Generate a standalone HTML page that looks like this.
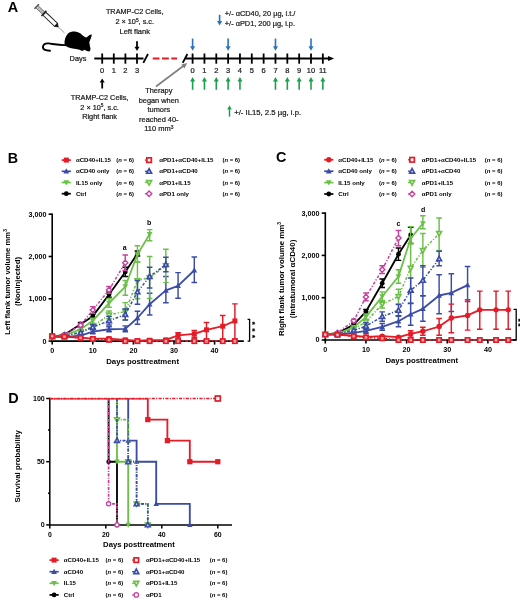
<!DOCTYPE html>
<html lang="en"><head><meta charset="utf-8"><title>Figure</title>
<style>html,body{margin:0;padding:0;background:#fff}svg{display:block}text{font-family:"Liberation Sans",sans-serif}</style>
</head><body>
<svg width="520" height="600" viewBox="0 0 520 600">
<defs><filter id="soft" x="0" y="0" width="520" height="600" filterUnits="userSpaceOnUse"><feGaussianBlur stdDeviation="0.38"/></filter><clipPath id="dclip"><rect x="40" y="398.3" width="200" height="140"/></clipPath></defs>
<rect width="520" height="600" fill="#fff"/>
<g filter="url(#soft)">
<text x="7.7" y="12.4" font-size="14.4" font-weight="bold" fill="#000">A</text>
<text x="7.8" y="162.9" font-size="14.3" font-weight="bold" fill="#000">B</text>
<text x="276.1" y="162.2" font-size="14.4" font-weight="bold" fill="#000">C</text>
<text x="8.2" y="402.5" font-size="14.4" font-weight="bold" fill="#000">D</text>
<g id="panelA">
<g transform="translate(36.7 6.5) rotate(43.5)">
<path d="M0 -3.2V3.2" stroke="#444" stroke-width="1.3"/>
<rect x="0.4" y="-1.6" width="9.6" height="3.2" fill="#c8c8c8" stroke="#555" stroke-width="0.7"/>
<path d="M2.5 -1.6V1.6M4.5 -1.6V1.6M6.5 -1.6V1.6M8.3 -1.6V1.6" stroke="#777" stroke-width="0.4"/>
<path d="M10 -3.6V3.6" stroke="#222" stroke-width="1.5"/>
<rect x="10.6" y="-2.1" width="16.1" height="4.2" fill="#fff" stroke="#222" stroke-width="0.95"/>
<path d="M26.7 -2.1L29.7 0L26.7 2.1Z" fill="#111" stroke="#111" stroke-width="0.6"/>
<path d="M29.5 0H38.3" stroke="#666" stroke-width="0.65"/>
</g>
<path d="M64.5 43.8C64.3 40 65.5 36 68 33.5C70 31.9 72.6 31.4 75 31.6C78 31.8 80.5 33.5 82.4 35.2C83.8 36.3 85.2 37.2 86.5 37.5C88 36.2 89.8 34.9 91.7 34.3C91.8 36 91.2 37.8 90.5 39.3C90.1 40.3 89.6 41.2 89.3 42.2C89.5 43.5 89.8 44.8 89.9 46.2C90.2 47.2 90.6 48.2 90.5 49.1C90.4 50.2 90 51.2 89.3 51.6C88.3 51.6 87.4 51.3 86.5 50.8C85.8 50.4 85 49.9 84.2 49.7C83.6 50.2 83.1 50.8 82.4 50.8C81.3 50.8 80.4 50.1 79.5 49.7C77.2 49.3 74.9 48.9 72.6 48.5C71 48.2 69.4 47.8 68 47.3C66.8 46.9 66 46.3 65.5 45.6C65 45 64.6 44.4 64.5 43.8Z" fill="#000"/>
<path d="M67 45C61 45.6 54.5 44.2 48.5 43.4C45 43 42.8 45 42.9 47.4C43 49.6 46 50.5 50 50.7" fill="none" stroke="#000" stroke-width="1.9" stroke-linecap="round"/>
<text x="78" y="61.4" font-size="7.4" text-anchor="middle" fill="#1c1a1b" stroke="#1c1a1b" stroke-width="0.22">Days</text>
<g stroke="#000" stroke-width="1.8" fill="none">
<path d="M94.3 58.5H143.5"/>
<path d="M102.2 53.5V63.7"/>
<path d="M113.8 53.5V63.7"/>
<path d="M125.4 53.5V63.7"/>
<path d="M137 53.5V63.7"/>
<path d="M143.3 62.8L148 54"/>
<path d="M182.7 62.8L187.4 54"/>
<path d="M185.2 58.5H331"/>
<path d="M192.6 53.5V63.7"/>
<path d="M204.44 53.5V63.7"/>
<path d="M216.28 53.5V63.7"/>
<path d="M228.12 53.5V63.7"/>
<path d="M239.96 53.5V63.7"/>
<path d="M251.8 53.5V63.7"/>
<path d="M263.64 53.5V63.7"/>
<path d="M275.48 53.5V63.7"/>
<path d="M287.32 53.5V63.7"/>
<path d="M299.16 53.5V63.7"/>
<path d="M311 53.5V63.7"/>
<path d="M322.84 53.5V63.7"/>
</g>
<path d="M328 55.9L334.2 58.5L328 61.1Z" fill="#000"/>
<path d="M152.7 58.5H177" stroke="#E31B28" stroke-width="1.8" stroke-dasharray="6.8 2.5"/>
<text x="102.2" y="73.1" font-size="7.5" text-anchor="middle" fill="#1c1a1b" stroke="#1c1a1b" stroke-width="0.22">0</text>
<text x="113.8" y="73.1" font-size="7.5" text-anchor="middle" fill="#1c1a1b" stroke="#1c1a1b" stroke-width="0.22">1</text>
<text x="125.4" y="73.1" font-size="7.5" text-anchor="middle" fill="#1c1a1b" stroke="#1c1a1b" stroke-width="0.22">2</text>
<text x="137" y="73.1" font-size="7.5" text-anchor="middle" fill="#1c1a1b" stroke="#1c1a1b" stroke-width="0.22">3</text>
<text x="192.6" y="73.1" font-size="7.5" text-anchor="middle" fill="#1c1a1b" stroke="#1c1a1b" stroke-width="0.22">0</text>
<text x="204.44" y="73.1" font-size="7.5" text-anchor="middle" fill="#1c1a1b" stroke="#1c1a1b" stroke-width="0.22">1</text>
<text x="216.28" y="73.1" font-size="7.5" text-anchor="middle" fill="#1c1a1b" stroke="#1c1a1b" stroke-width="0.22">2</text>
<text x="228.12" y="73.1" font-size="7.5" text-anchor="middle" fill="#1c1a1b" stroke="#1c1a1b" stroke-width="0.22">3</text>
<text x="239.96" y="73.1" font-size="7.5" text-anchor="middle" fill="#1c1a1b" stroke="#1c1a1b" stroke-width="0.22">4</text>
<text x="251.8" y="73.1" font-size="7.5" text-anchor="middle" fill="#1c1a1b" stroke="#1c1a1b" stroke-width="0.22">5</text>
<text x="263.64" y="73.1" font-size="7.5" text-anchor="middle" fill="#1c1a1b" stroke="#1c1a1b" stroke-width="0.22">6</text>
<text x="275.48" y="73.1" font-size="7.5" text-anchor="middle" fill="#1c1a1b" stroke="#1c1a1b" stroke-width="0.22">7</text>
<text x="287.32" y="73.1" font-size="7.5" text-anchor="middle" fill="#1c1a1b" stroke="#1c1a1b" stroke-width="0.22">8</text>
<text x="299.16" y="73.1" font-size="7.5" text-anchor="middle" fill="#1c1a1b" stroke="#1c1a1b" stroke-width="0.22">9</text>
<text x="311" y="73.1" font-size="7.5" text-anchor="middle" fill="#1c1a1b" stroke="#1c1a1b" stroke-width="0.22">10</text>
<text x="322.84" y="73.1" font-size="7.5" text-anchor="middle" fill="#1c1a1b" stroke="#1c1a1b" stroke-width="0.22">11</text>
<path d="M137 41.3V47.3" stroke="#000" stroke-width="1.8"/><path d="M134.5 46.8L139.5 46.8L137 51Z" fill="#000"/>
<path d="M102.2 88.5V82.1" stroke="#000" stroke-width="1.8"/><path d="M99.7 82.6L104.7 82.6L102.2 78.4Z" fill="#000"/>
<path d="M156 86.5L184.6 65" stroke="#808080" stroke-width="1.7"/>
<path d="M187.2 63L181.4 64.4L184.4 68.4Z" fill="#808080"/>
<path d="M192.6 38.6V46.8" stroke="#2A70BA" stroke-width="1.6"/><path d="M190.1 46.3L195.1 46.3L192.6 50.8Z" fill="#2A70BA"/>
<path d="M228.12 38.6V46.8" stroke="#2A70BA" stroke-width="1.6"/><path d="M225.62 46.3L230.62 46.3L228.12 50.8Z" fill="#2A70BA"/>
<path d="M275.48 38.6V46.8" stroke="#2A70BA" stroke-width="1.6"/><path d="M272.98 46.3L277.98 46.3L275.48 50.8Z" fill="#2A70BA"/>
<path d="M311 38.6V46.8" stroke="#2A70BA" stroke-width="1.6"/><path d="M308.5 46.3L313.5 46.3L311 50.8Z" fill="#2A70BA"/>
<path d="M219.6 14.8V21.5" stroke="#2A70BA" stroke-width="1.6"/><path d="M217.1 21L222.1 21L219.6 25.5Z" fill="#2A70BA"/>
<path d="M192.6 89.8V81" stroke="#1FA04B" stroke-width="1.6"/><path d="M190.1 81.5L195.1 81.5L192.6 77Z" fill="#1FA04B"/>
<path d="M204.44 89.8V81" stroke="#1FA04B" stroke-width="1.6"/><path d="M201.94 81.5L206.94 81.5L204.44 77Z" fill="#1FA04B"/>
<path d="M216.28 89.8V81" stroke="#1FA04B" stroke-width="1.6"/><path d="M213.78 81.5L218.78 81.5L216.28 77Z" fill="#1FA04B"/>
<path d="M228.12 89.8V81" stroke="#1FA04B" stroke-width="1.6"/><path d="M225.62 81.5L230.62 81.5L228.12 77Z" fill="#1FA04B"/>
<path d="M239.96 89.8V81" stroke="#1FA04B" stroke-width="1.6"/><path d="M237.46 81.5L242.46 81.5L239.96 77Z" fill="#1FA04B"/>
<path d="M275.48 89.8V81" stroke="#1FA04B" stroke-width="1.6"/><path d="M272.98 81.5L277.98 81.5L275.48 77Z" fill="#1FA04B"/>
<path d="M287.32 89.8V81" stroke="#1FA04B" stroke-width="1.6"/><path d="M284.82 81.5L289.82 81.5L287.32 77Z" fill="#1FA04B"/>
<path d="M299.16 89.8V81" stroke="#1FA04B" stroke-width="1.6"/><path d="M296.66 81.5L301.66 81.5L299.16 77Z" fill="#1FA04B"/>
<path d="M311 89.8V81" stroke="#1FA04B" stroke-width="1.6"/><path d="M308.5 81.5L313.5 81.5L311 77Z" fill="#1FA04B"/>
<path d="M322.84 89.8V81" stroke="#1FA04B" stroke-width="1.6"/><path d="M320.34 81.5L325.34 81.5L322.84 77Z" fill="#1FA04B"/>
<path d="M229.5 116.6V109.1" stroke="#1FA04B" stroke-width="1.5"/><path d="M227.2 109.6L231.8 109.6L229.5 105.3Z" fill="#1FA04B"/>
<text x="134.7" y="14.4" font-size="7.3" text-anchor="middle" fill="#1c1a1b" stroke="#1c1a1b" stroke-width="0.22">TRAMP-C2 Cells,</text>
<text x="134.7" y="24.2" font-size="7.3" text-anchor="middle" fill="#1c1a1b" stroke="#1c1a1b" stroke-width="0.22">2 × 10<tspan font-size="4.8" dy="-2.7">5</tspan><tspan dy="2.7">, s.c.</tspan></text>
<text x="134.7" y="33.8" font-size="7.5" text-anchor="middle" fill="#1c1a1b" stroke="#1c1a1b" stroke-width="0.22">Left flank</text>
<text x="99.6" y="99.7" font-size="7.3" text-anchor="middle" fill="#1c1a1b" stroke="#1c1a1b" stroke-width="0.22">TRAMP-C2 Cells,</text>
<text x="99.6" y="109.5" font-size="7.3" text-anchor="middle" fill="#1c1a1b" stroke="#1c1a1b" stroke-width="0.22">2 × 10<tspan font-size="4.8" dy="-2.7">5</tspan><tspan dy="2.7">, s.c.</tspan></text>
<text x="99.6" y="119.2" font-size="7.4" text-anchor="middle" fill="#1c1a1b" stroke="#1c1a1b" stroke-width="0.22">Right flank</text>
<text x="158.8" y="93.3" font-size="7.4" text-anchor="middle" fill="#1c1a1b" stroke="#1c1a1b" stroke-width="0.22">Therapy</text>
<text x="158.8" y="102.8" font-size="7.4" text-anchor="middle" fill="#1c1a1b" stroke="#1c1a1b" stroke-width="0.22">began when</text>
<text x="158.8" y="112.3" font-size="7.4" text-anchor="middle" fill="#1c1a1b" stroke="#1c1a1b" stroke-width="0.22">tumors</text>
<text x="158.8" y="121.8" font-size="7.4" text-anchor="middle" fill="#1c1a1b" stroke="#1c1a1b" stroke-width="0.22">reached 40-</text>
<text x="158.8" y="131.3" font-size="7.5" text-anchor="middle" fill="#1c1a1b" stroke="#1c1a1b" stroke-width="0.22">110 mm<tspan font-size="4.8" dy="-2.7">3</tspan></text>
<text x="224.8" y="16.4" font-size="7.38" fill="#1c1a1b" stroke="#1c1a1b" stroke-width="0.22">+/- αCD40, 20 µg, i.t./</text>
<text x="224.8" y="25.8" font-size="7.38" fill="#1c1a1b" stroke="#1c1a1b" stroke-width="0.22">+/- αPD1, 200 µg, i.p.</text>
<text x="234.2" y="115" font-size="7.72" fill="#1c1a1b" stroke="#1c1a1b" stroke-width="0.22">+/- IL15, 2.5 µg, i.p.</text>
</g>
<g id="panelB">
<path d="M61.7 160.1H70.9" stroke="#E31B28" stroke-width="1.7"/>
<rect x="63.8" y="157.6" width="5" height="5" fill="#E31B28"/>
<text x="75.9" y="162.25" font-size="6.1" font-weight="bold" fill="#000">αCD40+IL15</text>
<text x="116.3" y="162.2" font-size="5.95" font-weight="bold" fill="#000">(<tspan font-style="italic">n</tspan> = 6)</text>
<path d="M144.9 160.1H147.6" stroke="#E31B28" stroke-width="1.3"/>
<rect x="146.84" y="157.84" width="4.51" height="4.51" fill="#fff" stroke="#E31B28" stroke-width="1.7"/>
<text x="159.2" y="162.25" font-size="6.1" font-weight="bold" fill="#000">αPD1+αCD40+IL15</text>
<text x="222.4" y="162.2" font-size="5.95" font-weight="bold" fill="#000">(<tspan font-style="italic">n</tspan> = 6)</text>
<path d="M61.7 171.3H70.9" stroke="#3A4CA6" stroke-width="1.7"/>
<path d="M66.3 168.3L69.15 173.55L63.45 173.55Z" fill="#3A4CA6"/>
<text x="75.9" y="173.45" font-size="6.1" font-weight="bold" fill="#000">αCD40 only</text>
<text x="116.3" y="173.4" font-size="5.95" font-weight="bold" fill="#000">(<tspan font-style="italic">n</tspan> = 6)</text>
<path d="M144.9 171.3H147.6" stroke="#3A4CA6" stroke-width="1.3"/>
<path d="M149.1 168.73L151.54 173.23L146.66 173.23Z" fill="#fff" stroke="#3A4CA6" stroke-width="1.7"/>
<text x="159.2" y="173.45" font-size="6.1" font-weight="bold" fill="#000">αPD1+αCD40</text>
<text x="222.4" y="173.4" font-size="5.95" font-weight="bold" fill="#000">(<tspan font-style="italic">n</tspan> = 6)</text>
<path d="M61.7 182.5H70.9" stroke="#6CC04A" stroke-width="1.7"/>
<path d="M66.3 185.5L69.15 180.25L63.45 180.25Z" fill="#6CC04A"/>
<text x="75.9" y="184.65" font-size="6.1" font-weight="bold" fill="#000">IL15 only</text>
<text x="116.3" y="184.6" font-size="5.95" font-weight="bold" fill="#000">(<tspan font-style="italic">n</tspan> = 6)</text>
<path d="M144.9 182.5H147.6" stroke="#6CC04A" stroke-width="1.3"/>
<path d="M149.1 185.07L151.54 180.57L146.66 180.57Z" fill="#fff" stroke="#6CC04A" stroke-width="1.7"/>
<text x="159.2" y="184.65" font-size="6.1" font-weight="bold" fill="#000">αPD1+IL15</text>
<text x="222.4" y="184.6" font-size="5.95" font-weight="bold" fill="#000">(<tspan font-style="italic">n</tspan> = 6)</text>
<path d="M61.7 193.7H70.9" stroke="#000000" stroke-width="1.7"/>
<circle cx="66.3" cy="193.7" r="2.4" fill="#000000"/>
<text x="75.9" y="195.85" font-size="6.1" font-weight="bold" fill="#000">Ctrl</text>
<text x="116.3" y="195.8" font-size="5.95" font-weight="bold" fill="#000">(<tspan font-style="italic">n</tspan> = 6)</text>
<path d="M144.9 193.7H147.6" stroke="#C5439D" stroke-width="1.3"/>
<path d="M149.1 190.97L151.83 193.7L149.1 196.43L146.37 193.7Z" fill="#fff" stroke="#C5439D" stroke-width="1.4"/>
<text x="159.2" y="195.85" font-size="6.1" font-weight="bold" fill="#000">αPD1 only</text>
<text x="222.4" y="195.8" font-size="5.95" font-weight="bold" fill="#000">(<tspan font-style="italic">n</tspan> = 6)</text>
<g stroke="#000" stroke-width="1.6" fill="none">
<path d="M52.2 213.4V344.6"/>
<path d="M48.6 341.1H52.2"/>
<path d="M48.6 298.8H52.2"/>
<path d="M48.6 256.5H52.2"/>
<path d="M48.6 214.2H52.2"/>
<path d="M51.4 341.1H243.83"/>
<path d="M92.8 341.1V344.6"/>
<path d="M133.4 341.1V344.6"/>
<path d="M174 341.1V344.6"/>
<path d="M214.6 341.1V344.6"/>
</g>
<g><path d="M80.62 322.49V325.87M77.82 322.49H83.42M77.82 325.87H83.42M92.8 314.03V318.26M90 314.03H95.6M90 318.26H95.6M109.04 292.03V297.11M106.24 292.03H111.84M106.24 297.11H111.84M125.28 267.29V276.51M122.48 267.29H128.08M122.48 276.51H128.08M137.46 251V256.08M134.66 251H140.26M134.66 256.08H140.26" stroke="#000000" stroke-width="1.45" fill="none"/><path d="M52.2 336.87L64.38 334.75L80.62 324.18L92.8 316.14L109.04 294.57L125.28 271.9L137.46 253.54" stroke="#000000" stroke-width="1.8" fill="none" stroke-linejoin="round"/><circle cx="52.2" cy="336.87" r="2.4" fill="#000000"/><circle cx="64.38" cy="334.75" r="2.4" fill="#000000"/><circle cx="80.62" cy="324.18" r="2.4" fill="#000000"/><circle cx="92.8" cy="316.14" r="2.4" fill="#000000"/><circle cx="109.04" cy="294.57" r="2.4" fill="#000000"/><circle cx="125.28" cy="271.9" r="2.4" fill="#000000"/><circle cx="137.46" cy="253.54" r="2.4" fill="#000000"/></g>
<g><path d="M92.8 318.26V323.33M90 318.26H95.6M90 323.33H95.6M109.04 298.8V307.26M106.24 298.8H111.84M106.24 307.26H111.84M125.28 280.4V295.29M122.48 280.4H128.08M122.48 295.29H128.08M137.46 245.71V262M134.66 245.71H140.26M134.66 262H140.26M149.64 229.6V240.68M146.84 229.6H152.44M146.84 240.68H152.44" stroke="#6CC04A" stroke-width="1.45" fill="none"/><path d="M52.2 336.87L64.38 335.6L80.62 329.26L92.8 320.8L109.04 303.03L125.28 286.53L137.46 254.39L149.64 234.21" stroke="#6CC04A" stroke-width="1.8" fill="none" stroke-linejoin="round"/><path d="M52.2 339.87L55.05 334.62L49.35 334.62Z" fill="#6CC04A"/><path d="M64.38 338.6L67.23 333.35L61.53 333.35Z" fill="#6CC04A"/><path d="M80.62 332.26L83.47 327.01L77.77 327.01Z" fill="#6CC04A"/><path d="M92.8 323.8L95.65 318.55L89.95 318.55Z" fill="#6CC04A"/><path d="M109.04 306.03L111.89 300.78L106.19 300.78Z" fill="#6CC04A"/><path d="M125.28 289.53L128.13 284.28L122.43 284.28Z" fill="#6CC04A"/><path d="M137.46 257.39L140.31 252.14L134.61 252.14Z" fill="#6CC04A"/><path d="M149.64 237.21L152.49 231.96L146.79 231.96Z" fill="#6CC04A"/></g>
<g><path d="M92.8 329.47V333.7M90 329.47H95.6M90 333.7H95.6M109.04 326.72V331.79M106.24 326.72H111.84M106.24 331.79H111.84M125.28 325.87V331.79M122.48 325.87H128.08M122.48 331.79H128.08M137.46 311.24V324.18M134.66 311.24H140.26M134.66 324.18H140.26M149.64 293.3V315M146.84 293.3H152.44M146.84 315H152.44M165.88 276.51V302.69M163.08 276.51H168.68M163.08 302.69H168.68M178.06 272.62V298.29M175.26 272.62H180.86M175.26 298.29H180.86M194.3 256.92V282.51M191.5 256.92H197.1M191.5 282.51H197.1" stroke="#3A4CA6" stroke-width="1.45" fill="none"/><path d="M52.2 336.87L64.38 336.87L80.62 335.6L92.8 331.58L109.04 329.26L125.28 328.83L137.46 318L149.64 304.21L165.88 290.38L178.06 285.81L194.3 270.25" stroke="#3A4CA6" stroke-width="1.8" fill="none" stroke-linejoin="round"/><path d="M52.2 333.87L55.05 339.12L49.35 339.12Z" fill="#3A4CA6"/><path d="M64.38 333.87L67.23 339.12L61.53 339.12Z" fill="#3A4CA6"/><path d="M80.62 332.6L83.47 337.85L77.77 337.85Z" fill="#3A4CA6"/><path d="M92.8 328.58L95.65 333.83L89.95 333.83Z" fill="#3A4CA6"/><path d="M109.04 326.26L111.89 331.51L106.19 331.51Z" fill="#3A4CA6"/><path d="M125.28 325.83L128.13 331.08L122.43 331.08Z" fill="#3A4CA6"/><path d="M137.46 315L140.31 320.25L134.61 320.25Z" fill="#3A4CA6"/><path d="M149.64 301.21L152.49 306.46L146.79 306.46Z" fill="#3A4CA6"/><path d="M165.88 287.38L168.73 292.63L163.03 292.63Z" fill="#3A4CA6"/><path d="M178.06 282.81L180.91 288.06L175.21 288.06Z" fill="#3A4CA6"/><path d="M194.3 267.25L197.15 272.5L191.45 272.5Z" fill="#3A4CA6"/></g>
<g><path d="M178.06 332.64V338.14M175.26 332.64H180.86M175.26 338.14H180.86M194.3 330.53V337.29M191.5 330.53H197.1M191.5 337.29H197.1M206.48 322.49V340.25M203.68 322.49H209.28M203.68 340.25H209.28M222.72 315.51V340.25M219.92 315.51H225.52M219.92 340.25H225.52M234.9 303.88V341.1M232.1 303.88H237.7M232.1 341.1H237.7" stroke="#E31B28" stroke-width="1.45" fill="none"/><path d="M52.2 336.45L64.38 336.87L80.62 337.72L92.8 338.56L109.04 338.56L125.28 339.83L137.46 340.68L149.64 340.25L165.88 339.83L178.06 335.3L194.3 333.91L206.48 329.81L222.72 326.21L234.9 320.92" stroke="#E31B28" stroke-width="1.8" fill="none" stroke-linejoin="round"/><rect x="49.7" y="333.95" width="5" height="5" fill="#E31B28"/><rect x="61.88" y="334.37" width="5" height="5" fill="#E31B28"/><rect x="78.12" y="335.22" width="5" height="5" fill="#E31B28"/><rect x="90.3" y="336.06" width="5" height="5" fill="#E31B28"/><rect x="106.54" y="336.06" width="5" height="5" fill="#E31B28"/><rect x="122.78" y="337.33" width="5" height="5" fill="#E31B28"/><rect x="134.96" y="338.18" width="5" height="5" fill="#E31B28"/><rect x="147.14" y="337.75" width="5" height="5" fill="#E31B28"/><rect x="163.38" y="337.33" width="5" height="5" fill="#E31B28"/><rect x="175.56" y="332.8" width="5" height="5" fill="#E31B28"/><rect x="191.8" y="331.41" width="5" height="5" fill="#E31B28"/><rect x="203.98" y="327.31" width="5" height="5" fill="#E31B28"/><rect x="220.22" y="323.71" width="5" height="5" fill="#E31B28"/><rect x="232.4" y="318.42" width="5" height="5" fill="#E31B28"/></g>
<g><path d="M80.62 323.55V326.93M77.82 323.55H83.42M77.82 326.93H83.42M92.8 306.63V313.39M90 306.63H95.6M90 313.39H95.6M109.04 286.53V293.3M106.24 286.53H111.84M106.24 293.3H111.84M125.28 255.02V270.46M122.48 255.02H128.08M122.48 270.46H128.08" stroke="#C5439D" stroke-width="1.45" fill="none"/><path d="M52.2 336.87L64.38 334.75L80.62 325.24L92.8 310.01L109.04 289.92L125.28 262.72" stroke="#C5439D" stroke-width="1.55" fill="none" stroke-linejoin="round" stroke-dasharray="2.8 1.7 1.2 1.7"/><path d="M52.2 334.27L54.8 336.87L52.2 339.47L49.6 336.87Z" fill="#fff" stroke="#C5439D" stroke-width="1.4"/><path d="M64.38 332.15L66.98 334.75L64.38 337.36L61.78 334.75Z" fill="#fff" stroke="#C5439D" stroke-width="1.4"/><path d="M80.62 322.64L83.22 325.24L80.62 327.84L78.02 325.24Z" fill="#fff" stroke="#C5439D" stroke-width="1.4"/><path d="M92.8 307.41L95.4 310.01L92.8 312.61L90.2 310.01Z" fill="#fff" stroke="#C5439D" stroke-width="1.4"/><path d="M109.04 287.32L111.64 289.92L109.04 292.52L106.44 289.92Z" fill="#fff" stroke="#C5439D" stroke-width="1.4"/><path d="M125.28 260.12L127.88 262.72L125.28 265.32L122.68 262.72Z" fill="#fff" stroke="#C5439D" stroke-width="1.4"/></g>
<g><path d="M92.8 324.18V328.41M90 324.18H95.6M90 328.41H95.6M109.04 311.07V318.68M106.24 311.07H111.84M106.24 318.68H111.84M125.28 302.61V319.95M122.48 302.61H128.08M122.48 319.95H128.08M137.46 262V298.8M134.66 262H140.26M134.66 298.8H140.26M149.64 256.5V298.59M146.84 256.5H152.44M146.84 298.59H152.44M165.88 249.31V282.6M163.08 249.31H168.68M163.08 282.6H168.68" stroke="#6CC04A" stroke-width="1.45" fill="none"/><path d="M52.2 336.87L64.38 336.02L80.62 331.79L92.8 326.3L109.04 314.87L125.28 311.49L137.46 280.61L149.64 277.65L165.88 265.81" stroke="#6CC04A" stroke-width="1.55" fill="none" stroke-linejoin="round" stroke-dasharray="2.8 1.7 1.2 1.7"/><path d="M52.2 339.32L54.53 335.03L49.87 335.03Z" fill="#fff" stroke="#6CC04A" stroke-width="1.7"/><path d="M64.38 338.47L66.71 334.19L62.05 334.19Z" fill="#fff" stroke="#6CC04A" stroke-width="1.7"/><path d="M80.62 334.24L82.95 329.96L78.29 329.96Z" fill="#fff" stroke="#6CC04A" stroke-width="1.7"/><path d="M92.8 328.75L95.13 324.46L90.47 324.46Z" fill="#fff" stroke="#6CC04A" stroke-width="1.7"/><path d="M109.04 317.32L111.37 313.04L106.71 313.04Z" fill="#fff" stroke="#6CC04A" stroke-width="1.7"/><path d="M125.28 313.94L127.61 309.65L122.95 309.65Z" fill="#fff" stroke="#6CC04A" stroke-width="1.7"/><path d="M137.46 283.06L139.79 278.77L135.13 278.77Z" fill="#fff" stroke="#6CC04A" stroke-width="1.7"/><path d="M149.64 280.1L151.97 275.81L147.31 275.81Z" fill="#fff" stroke="#6CC04A" stroke-width="1.7"/><path d="M165.88 268.26L168.21 263.97L163.55 263.97Z" fill="#fff" stroke="#6CC04A" stroke-width="1.7"/></g>
<g><path d="M92.8 324.6V329.68M90 324.6H95.6M90 329.68H95.6M109.04 316.57V325.03M106.24 316.57H111.84M106.24 325.03H111.84M125.28 308.95V319.95M122.48 308.95H128.08M122.48 319.95H128.08M137.46 280.4V304.21M134.66 280.4H140.26M134.66 304.21H140.26M149.64 267.29V288.01M146.84 267.29H152.44M146.84 288.01H152.44M165.88 257.3V271.73M163.08 257.3H168.68M163.08 271.73H168.68" stroke="#3A4CA6" stroke-width="1.45" fill="none"/><path d="M52.2 336.87L64.38 336.02L80.62 332.64L92.8 327.14L109.04 320.8L125.28 314.45L137.46 291.91L149.64 276.51L165.88 264.54" stroke="#3A4CA6" stroke-width="1.55" fill="none" stroke-linejoin="round" stroke-dasharray="2.8 1.7 1.2 1.7"/><path d="M52.2 334.42L54.53 338.71L49.87 338.71Z" fill="#fff" stroke="#3A4CA6" stroke-width="1.7"/><path d="M64.38 333.57L66.71 337.86L62.05 337.86Z" fill="#fff" stroke="#3A4CA6" stroke-width="1.7"/><path d="M80.62 330.19L82.95 334.48L78.29 334.48Z" fill="#fff" stroke="#3A4CA6" stroke-width="1.7"/><path d="M92.8 324.69L95.13 328.98L90.47 328.98Z" fill="#fff" stroke="#3A4CA6" stroke-width="1.7"/><path d="M109.04 318.35L111.37 322.63L106.71 322.63Z" fill="#fff" stroke="#3A4CA6" stroke-width="1.7"/><path d="M125.28 312L127.61 316.29L122.95 316.29Z" fill="#fff" stroke="#3A4CA6" stroke-width="1.7"/><path d="M137.46 289.46L139.79 293.74L135.13 293.74Z" fill="#fff" stroke="#3A4CA6" stroke-width="1.7"/><path d="M149.64 274.06L151.97 278.35L147.31 278.35Z" fill="#fff" stroke="#3A4CA6" stroke-width="1.7"/><path d="M165.88 262.09L168.21 266.37L163.55 266.37Z" fill="#fff" stroke="#3A4CA6" stroke-width="1.7"/></g>
<g><path d="M52.2 336.02L64.38 336.66L80.62 337.93L92.8 338.99L109.04 339.83L125.28 341.1L137.46 341.1L149.64 341.1L165.88 341.1L178.06 341.1L194.3 341.1L206.48 341.1L222.72 341.1L234.9 341.1" stroke="#E31B28" stroke-width="1.55" fill="none" stroke-linejoin="round" stroke-dasharray="2.8 1.7 1.2 1.7"/><rect x="50.05" y="333.87" width="4.3" height="4.3" fill="#fff" fill-opacity="0.6" stroke="#E31B28" stroke-width="1.7"/><rect x="62.23" y="334.51" width="4.3" height="4.3" fill="#fff" fill-opacity="0.6" stroke="#E31B28" stroke-width="1.7"/><rect x="78.47" y="335.78" width="4.3" height="4.3" fill="#fff" fill-opacity="0.6" stroke="#E31B28" stroke-width="1.7"/><rect x="90.65" y="336.84" width="4.3" height="4.3" fill="#fff" fill-opacity="0.6" stroke="#E31B28" stroke-width="1.7"/><rect x="106.89" y="337.68" width="4.3" height="4.3" fill="#fff" fill-opacity="0.6" stroke="#E31B28" stroke-width="1.7"/><rect x="123.13" y="338.95" width="4.3" height="4.3" fill="#fff" fill-opacity="0.6" stroke="#E31B28" stroke-width="1.7"/><rect x="135.31" y="338.95" width="4.3" height="4.3" fill="#fff" fill-opacity="0.6" stroke="#E31B28" stroke-width="1.7"/><rect x="147.49" y="338.95" width="4.3" height="4.3" fill="#fff" fill-opacity="0.6" stroke="#E31B28" stroke-width="1.7"/><rect x="163.73" y="338.95" width="4.3" height="4.3" fill="#fff" fill-opacity="0.6" stroke="#E31B28" stroke-width="1.7"/><rect x="175.91" y="338.95" width="4.3" height="4.3" fill="#fff" fill-opacity="0.6" stroke="#E31B28" stroke-width="1.7"/><rect x="192.15" y="338.95" width="4.3" height="4.3" fill="#fff" fill-opacity="0.6" stroke="#E31B28" stroke-width="1.7"/><rect x="204.33" y="338.95" width="4.3" height="4.3" fill="#fff" fill-opacity="0.6" stroke="#E31B28" stroke-width="1.7"/><rect x="220.57" y="338.95" width="4.3" height="4.3" fill="#fff" fill-opacity="0.6" stroke="#E31B28" stroke-width="1.7"/><rect x="232.75" y="338.95" width="4.3" height="4.3" fill="#fff" fill-opacity="0.6" stroke="#E31B28" stroke-width="1.7"/></g>
<text x="46.4" y="343.5" font-size="7.2" font-weight="bold" text-anchor="end" fill="#000">0</text>
<text x="46.4" y="301.2" font-size="7.2" font-weight="bold" text-anchor="end" fill="#000">1,000</text>
<text x="46.4" y="258.9" font-size="7.2" font-weight="bold" text-anchor="end" fill="#000">2,000</text>
<text x="46.4" y="216.6" font-size="7.2" font-weight="bold" text-anchor="end" fill="#000">3,000</text>
<text x="52.2" y="352.6" font-size="7.2" font-weight="bold" text-anchor="middle" fill="#000">0</text>
<text x="92.8" y="352.6" font-size="7.2" font-weight="bold" text-anchor="middle" fill="#000">10</text>
<text x="133.4" y="352.6" font-size="7.2" font-weight="bold" text-anchor="middle" fill="#000">20</text>
<text x="174" y="352.6" font-size="7.2" font-weight="bold" text-anchor="middle" fill="#000">30</text>
<text x="214.6" y="352.6" font-size="7.2" font-weight="bold" text-anchor="middle" fill="#000">40</text>
<text x="142.6" y="363.6" font-size="7.8" font-weight="bold" text-anchor="middle" fill="#000">Days posttreatment</text>
<text transform="translate(9.7 282) rotate(-90)" font-size="7.7" font-weight="bold" text-anchor="middle" fill="#000">Left flank tumor volume mm<tspan font-size="4.8" dy="-3">3</tspan></text>
<text transform="translate(20.4 281.5) rotate(-90)" font-size="7.7" font-weight="bold" text-anchor="middle" fill="#000">(Noninjected)</text>
<text x="124.6" y="250" font-size="7" font-weight="bold" text-anchor="middle" fill="#000">a</text>
<text x="149.2" y="224.8" font-size="7" font-weight="bold" text-anchor="middle" fill="#000">b</text>
<path d="M247.6 319.4H249.6V341.2H247.6" stroke="#000" stroke-width="1.3" fill="none"/>
<text transform="translate(249.9 331.7) rotate(90)" font-size="7.6" font-weight="bold" text-anchor="middle" fill="#000" stroke="#000" stroke-width="0.25" letter-spacing="3.65">***</text>
</g>
<g id="panelC">
<path d="M324.2 159.8H333.4" stroke="#E31B28" stroke-width="1.7"/>
<circle cx="328.8" cy="159.8" r="2.7" fill="#E31B28"/>
<text x="338.3" y="161.95" font-size="6.1" font-weight="bold" fill="#000">αCD40+IL15</text>
<text x="379.1" y="161.9" font-size="5.95" font-weight="bold" fill="#000">(<tspan font-style="italic">n</tspan> = 6)</text>
<path d="M407.9 159.8H410.6" stroke="#E31B28" stroke-width="1.3"/>
<rect x="409.84" y="157.54" width="4.51" height="4.51" fill="#fff" stroke="#E31B28" stroke-width="1.7"/>
<text x="421.8" y="161.95" font-size="6.1" font-weight="bold" fill="#000">αPD1+αCD40+IL15</text>
<text x="484.8" y="161.9" font-size="5.95" font-weight="bold" fill="#000">(<tspan font-style="italic">n</tspan> = 6)</text>
<path d="M324.2 171.2H333.4" stroke="#3A4CA6" stroke-width="1.7"/>
<path d="M328.8 168.2L331.65 173.45L325.95 173.45Z" fill="#3A4CA6"/>
<text x="338.3" y="173.35" font-size="6.1" font-weight="bold" fill="#000">αCD40 only</text>
<text x="379.1" y="173.3" font-size="5.95" font-weight="bold" fill="#000">(<tspan font-style="italic">n</tspan> = 6)</text>
<path d="M407.9 171.2H410.6" stroke="#3A4CA6" stroke-width="1.3"/>
<path d="M412.1 168.63L414.54 173.13L409.66 173.13Z" fill="#fff" stroke="#3A4CA6" stroke-width="1.7"/>
<text x="421.8" y="173.35" font-size="6.1" font-weight="bold" fill="#000">αPD1+αCD40</text>
<text x="484.8" y="173.3" font-size="5.95" font-weight="bold" fill="#000">(<tspan font-style="italic">n</tspan> = 6)</text>
<path d="M324.2 182.6H333.4" stroke="#6CC04A" stroke-width="1.7"/>
<path d="M328.8 185.6L331.65 180.35L325.95 180.35Z" fill="#6CC04A"/>
<text x="338.3" y="184.75" font-size="6.1" font-weight="bold" fill="#000">IL15 only</text>
<text x="379.1" y="184.7" font-size="5.95" font-weight="bold" fill="#000">(<tspan font-style="italic">n</tspan> = 6)</text>
<path d="M407.9 182.6H410.6" stroke="#6CC04A" stroke-width="1.3"/>
<path d="M412.1 185.17L414.54 180.67L409.66 180.67Z" fill="#fff" stroke="#6CC04A" stroke-width="1.7"/>
<text x="421.8" y="184.75" font-size="6.1" font-weight="bold" fill="#000">αPD1+IL15</text>
<text x="484.8" y="184.7" font-size="5.95" font-weight="bold" fill="#000">(<tspan font-style="italic">n</tspan> = 6)</text>
<path d="M324.2 194H333.4" stroke="#000000" stroke-width="1.7"/>
<circle cx="328.8" cy="194" r="2.4" fill="#000000"/>
<text x="338.3" y="196.15" font-size="6.1" font-weight="bold" fill="#000">Ctrl</text>
<text x="379.1" y="196.1" font-size="5.95" font-weight="bold" fill="#000">(<tspan font-style="italic">n</tspan> = 6)</text>
<path d="M407.9 194H410.6" stroke="#C5439D" stroke-width="1.3"/>
<path d="M412.1 191.27L414.83 194L412.1 196.73L409.37 194Z" fill="#fff" stroke="#C5439D" stroke-width="1.4"/>
<text x="421.8" y="196.15" font-size="6.1" font-weight="bold" fill="#000">αPD1 only</text>
<text x="484.8" y="196.1" font-size="5.95" font-weight="bold" fill="#000">(<tspan font-style="italic">n</tspan> = 6)</text>
<g stroke="#000" stroke-width="1.6" fill="none">
<path d="M325.3 212.3V343.5"/>
<path d="M321.7 340H325.3"/>
<path d="M321.7 297.7H325.3"/>
<path d="M321.7 255.4H325.3"/>
<path d="M321.7 213.1H325.3"/>
<path d="M324.5 340H515.95"/>
<path d="M365.95 340V343.5"/>
<path d="M406.6 340V343.5"/>
<path d="M447.25 340V343.5"/>
<path d="M487.9 340V343.5"/>
</g>
<g><path d="M353.75 322.91V326.29M350.95 322.91H356.56M350.95 326.29H356.56M365.95 309.42V313.65M363.15 309.42H368.75M363.15 313.65H368.75M382.21 279.09V287.55M379.41 279.09H385.01M379.41 287.55H385.01M398.47 248.08V260.39M395.67 248.08H401.27M395.67 260.39H401.27M410.67 227.31V243.47M407.87 227.31H413.47M407.87 243.47H413.47" stroke="#000000" stroke-width="1.45" fill="none"/><path d="M325.3 334.5L337.5 333.23L353.75 324.6L365.95 311.53L382.21 283.32L398.47 254.22L410.67 235.01" stroke="#000000" stroke-width="1.8" fill="none" stroke-linejoin="round"/><circle cx="325.3" cy="334.5" r="2.4" fill="#000000"/><circle cx="337.5" cy="333.23" r="2.4" fill="#000000"/><circle cx="353.75" cy="324.6" r="2.4" fill="#000000"/><circle cx="365.95" cy="311.53" r="2.4" fill="#000000"/><circle cx="382.21" cy="283.32" r="2.4" fill="#000000"/><circle cx="398.47" cy="254.22" r="2.4" fill="#000000"/><circle cx="410.67" cy="235.01" r="2.4" fill="#000000"/></g>
<g><path d="M365.95 313.94V319.87M363.15 313.94H368.75M363.15 319.87H368.75M382.21 291.86V301.17M379.41 291.86H385.01M379.41 301.17H385.01M398.47 269.78V283.32M395.67 269.78H401.27M395.67 283.32H401.27M410.67 226.64V243.47M407.87 226.64H413.47M407.87 243.47H413.47M422.86 215.81V228.84M420.06 215.81H425.66M420.06 228.84H425.66" stroke="#6CC04A" stroke-width="1.45" fill="none"/><path d="M325.3 334.5L337.5 333.65L353.75 327.31L365.95 316.9L382.21 296.52L398.47 276.55L410.67 238.48L422.86 223.46" stroke="#6CC04A" stroke-width="1.8" fill="none" stroke-linejoin="round"/><path d="M325.3 337.5L328.15 332.25L322.45 332.25Z" fill="#6CC04A"/><path d="M337.5 336.65L340.35 331.4L334.64 331.4Z" fill="#6CC04A"/><path d="M353.75 330.31L356.61 325.06L350.9 325.06Z" fill="#6CC04A"/><path d="M365.95 319.9L368.8 314.65L363.1 314.65Z" fill="#6CC04A"/><path d="M382.21 299.52L385.06 294.27L379.36 294.27Z" fill="#6CC04A"/><path d="M398.47 279.55L401.32 274.3L395.62 274.3Z" fill="#6CC04A"/><path d="M410.67 241.48L413.52 236.23L407.81 236.23Z" fill="#6CC04A"/><path d="M422.86 226.46L425.71 221.21L420.01 221.21Z" fill="#6CC04A"/></g>
<g><path d="M365.95 328.24V333.32M363.15 328.24H368.75M363.15 333.32H368.75M382.21 323.55V330.31M379.41 323.55H385.01M379.41 330.31H385.01M398.47 315.68V326.68M395.67 315.68H401.27M395.67 326.68H401.27M410.67 303.2V325.19M407.87 303.2H413.47M407.87 325.19H413.47M422.86 295.8V321.18M420.06 295.8H425.66M420.06 321.18H425.66M439.12 274.69V313.65M436.32 274.69H441.92M436.32 313.65H441.92M451.32 273.84V311.57M448.52 273.84H454.12M448.52 311.57H454.12M467.58 266.57V301.55M464.78 266.57H470.38M464.78 301.55H470.38" stroke="#3A4CA6" stroke-width="1.45" fill="none"/><path d="M325.3 334.5L337.5 334.08L353.75 332.81L365.95 330.78L382.21 326.93L398.47 321.18L410.67 314.24L422.86 308.82L439.12 295.5L451.32 292.88L467.58 285.09" stroke="#3A4CA6" stroke-width="1.8" fill="none" stroke-linejoin="round"/><path d="M325.3 331.5L328.15 336.75L322.45 336.75Z" fill="#3A4CA6"/><path d="M337.5 331.08L340.35 336.33L334.64 336.33Z" fill="#3A4CA6"/><path d="M353.75 329.81L356.61 335.06L350.9 335.06Z" fill="#3A4CA6"/><path d="M365.95 327.78L368.8 333.03L363.1 333.03Z" fill="#3A4CA6"/><path d="M382.21 323.93L385.06 329.18L379.36 329.18Z" fill="#3A4CA6"/><path d="M398.47 318.18L401.32 323.43L395.62 323.43Z" fill="#3A4CA6"/><path d="M410.67 311.24L413.52 316.49L407.81 316.49Z" fill="#3A4CA6"/><path d="M422.86 305.82L425.71 311.07L420.01 311.07Z" fill="#3A4CA6"/><path d="M439.12 292.5L441.97 297.75L436.27 297.75Z" fill="#3A4CA6"/><path d="M451.32 289.88L454.17 295.13L448.47 295.13Z" fill="#3A4CA6"/><path d="M467.58 282.09L470.43 287.34L464.73 287.34Z" fill="#3A4CA6"/></g>
<g><path d="M410.67 330.78V337.12M407.87 330.78H413.47M407.87 337.12H413.47M422.86 327.23V335.26M420.06 327.23H425.66M420.06 335.26H425.66M439.12 318.47V335.26M436.32 318.47H441.92M436.32 335.26H441.92M451.32 304.13V332.68M448.52 304.13H454.12M448.52 332.68H454.12M467.58 299.81V330.1M464.78 299.81H470.38M464.78 330.1H470.38M479.77 291.14V329.21M476.97 291.14H482.57M476.97 329.21H482.57M496.03 291.14V329.21M493.23 291.14H498.83M493.23 329.21H498.83M508.23 291.14V329.21M505.43 291.14H511.03M505.43 329.21H511.03" stroke="#E31B28" stroke-width="1.45" fill="none"/><path d="M325.3 334.5L337.5 334.5L353.75 335.77L365.95 336.91L382.21 336.15L398.47 337.21L410.67 333.95L422.86 331.24L439.12 326.55L451.32 318L467.58 315.38L479.77 309.84L496.03 309.84L508.23 309.84" stroke="#E31B28" stroke-width="1.8" fill="none" stroke-linejoin="round"/><circle cx="325.3" cy="334.5" r="2.7" fill="#E31B28"/><circle cx="337.5" cy="334.5" r="2.7" fill="#E31B28"/><circle cx="353.75" cy="335.77" r="2.7" fill="#E31B28"/><circle cx="365.95" cy="336.91" r="2.7" fill="#E31B28"/><circle cx="382.21" cy="336.15" r="2.7" fill="#E31B28"/><circle cx="398.47" cy="337.21" r="2.7" fill="#E31B28"/><circle cx="410.67" cy="333.95" r="2.7" fill="#E31B28"/><circle cx="422.86" cy="331.24" r="2.7" fill="#E31B28"/><circle cx="439.12" cy="326.55" r="2.7" fill="#E31B28"/><circle cx="451.32" cy="318" r="2.7" fill="#E31B28"/><circle cx="467.58" cy="315.38" r="2.7" fill="#E31B28"/><circle cx="479.77" cy="309.84" r="2.7" fill="#E31B28"/><circle cx="496.03" cy="309.84" r="2.7" fill="#E31B28"/><circle cx="508.23" cy="309.84" r="2.7" fill="#E31B28"/></g>
<g><path d="M353.75 319.1V322.49M350.95 319.1H356.56M350.95 322.49H356.56M365.95 293.09V300.7M363.15 293.09H368.75M363.15 300.7H368.75M382.21 265.81V273.42M379.41 265.81H385.01M379.41 273.42H385.01M398.47 230.4V245.8M395.67 230.4H401.27M395.67 245.8H401.27" stroke="#C5439D" stroke-width="1.45" fill="none"/><path d="M325.3 334.5L337.5 332.81L353.75 320.8L365.95 296.9L382.21 269.61L398.47 238.1" stroke="#C5439D" stroke-width="1.55" fill="none" stroke-linejoin="round" stroke-dasharray="2.8 1.7 1.2 1.7"/><path d="M325.3 331.9L327.9 334.5L325.3 337.1L322.7 334.5Z" fill="#fff" stroke="#C5439D" stroke-width="1.4"/><path d="M337.5 330.21L340.1 332.81L337.5 335.41L334.89 332.81Z" fill="#fff" stroke="#C5439D" stroke-width="1.4"/><path d="M353.75 318.2L356.36 320.8L353.75 323.4L351.15 320.8Z" fill="#fff" stroke="#C5439D" stroke-width="1.4"/><path d="M365.95 294.3L368.55 296.9L365.95 299.5L363.35 296.9Z" fill="#fff" stroke="#C5439D" stroke-width="1.4"/><path d="M382.21 267.01L384.81 269.61L382.21 272.21L379.61 269.61Z" fill="#fff" stroke="#C5439D" stroke-width="1.4"/><path d="M398.47 235.5L401.07 238.1L398.47 240.7L395.87 238.1Z" fill="#fff" stroke="#C5439D" stroke-width="1.4"/></g>
<g><path d="M365.95 319.27V324.35M363.15 319.27H368.75M363.15 324.35H368.75M382.21 300.41V308.02M379.41 300.41H385.01M379.41 308.02H385.01M398.47 289.24V304.05M395.67 289.24H401.27M395.67 304.05H401.27M410.67 243.47V291.36M407.87 243.47H413.47M407.87 291.36H413.47M422.86 233.49V267.33M420.06 233.49H425.66M420.06 267.33H425.66M439.12 218.01V250.41M436.32 218.01H441.92M436.32 250.41H441.92" stroke="#6CC04A" stroke-width="1.45" fill="none"/><path d="M325.3 334.5L337.5 334.08L353.75 329L365.95 321.81L382.21 304.21L398.47 296.52L410.67 268.09L422.86 250.41L439.12 233.49" stroke="#6CC04A" stroke-width="1.55" fill="none" stroke-linejoin="round" stroke-dasharray="2.8 1.7 1.2 1.7"/><path d="M325.3 336.95L327.63 332.66L322.97 332.66Z" fill="#fff" stroke="#6CC04A" stroke-width="1.7"/><path d="M337.5 336.53L339.82 332.24L335.17 332.24Z" fill="#fff" stroke="#6CC04A" stroke-width="1.7"/><path d="M353.75 331.45L356.08 327.16L351.43 327.16Z" fill="#fff" stroke="#6CC04A" stroke-width="1.7"/><path d="M365.95 324.26L368.28 319.97L363.62 319.97Z" fill="#fff" stroke="#6CC04A" stroke-width="1.7"/><path d="M382.21 306.66L384.54 302.38L379.88 302.38Z" fill="#fff" stroke="#6CC04A" stroke-width="1.7"/><path d="M398.47 298.97L400.8 294.68L396.14 294.68Z" fill="#fff" stroke="#6CC04A" stroke-width="1.7"/><path d="M410.67 270.54L412.99 266.25L408.34 266.25Z" fill="#fff" stroke="#6CC04A" stroke-width="1.7"/><path d="M422.86 252.86L425.19 248.57L420.53 248.57Z" fill="#fff" stroke="#6CC04A" stroke-width="1.7"/><path d="M439.12 235.94L441.45 231.65L436.79 231.65Z" fill="#fff" stroke="#6CC04A" stroke-width="1.7"/></g>
<g><path d="M365.95 322.78V329.55M363.15 322.78H368.75M363.15 329.55H368.75M382.21 311.87V321.18M379.41 311.87H385.01M379.41 321.18H385.01M398.47 304.47V316.31M395.67 304.47H401.27M395.67 316.31H401.27M410.67 278.03V303.5M407.87 278.03H413.47M407.87 303.5H413.47M422.86 265.76V295.8M420.06 265.76H425.66M420.06 295.8H425.66M439.12 251.17V265.76M436.32 251.17H441.92M436.32 265.76H441.92" stroke="#3A4CA6" stroke-width="1.45" fill="none"/><path d="M325.3 334.5L337.5 334.08L353.75 330.27L365.95 326.17L382.21 316.52L398.47 310.39L410.67 290.38L422.86 280.4L439.12 258.83" stroke="#3A4CA6" stroke-width="1.55" fill="none" stroke-linejoin="round" stroke-dasharray="2.8 1.7 1.2 1.7"/><path d="M325.3 332.05L327.63 336.34L322.97 336.34Z" fill="#fff" stroke="#3A4CA6" stroke-width="1.7"/><path d="M337.5 331.63L339.82 335.92L335.17 335.92Z" fill="#fff" stroke="#3A4CA6" stroke-width="1.7"/><path d="M353.75 327.82L356.08 332.11L351.43 332.11Z" fill="#fff" stroke="#3A4CA6" stroke-width="1.7"/><path d="M365.95 323.72L368.28 328.01L363.62 328.01Z" fill="#fff" stroke="#3A4CA6" stroke-width="1.7"/><path d="M382.21 314.07L384.54 318.36L379.88 318.36Z" fill="#fff" stroke="#3A4CA6" stroke-width="1.7"/><path d="M398.47 307.94L400.8 312.23L396.14 312.23Z" fill="#fff" stroke="#3A4CA6" stroke-width="1.7"/><path d="M410.67 287.93L412.99 292.22L408.34 292.22Z" fill="#fff" stroke="#3A4CA6" stroke-width="1.7"/><path d="M422.86 277.95L425.19 282.24L420.53 282.24Z" fill="#fff" stroke="#3A4CA6" stroke-width="1.7"/><path d="M439.12 256.38L441.45 260.66L436.79 260.66Z" fill="#fff" stroke="#3A4CA6" stroke-width="1.7"/></g>
<g><path d="M325.3 334.5L337.5 334.92L353.75 336.19L365.95 337.46L382.21 338.31L398.47 340L410.67 340L422.86 340L439.12 340L451.32 340L467.58 340L479.77 340L496.03 340L508.23 340" stroke="#E31B28" stroke-width="1.55" fill="none" stroke-linejoin="round" stroke-dasharray="2.8 1.7 1.2 1.7"/><rect x="323.15" y="332.35" width="4.3" height="4.3" fill="#fff" fill-opacity="0.6" stroke="#E31B28" stroke-width="1.7"/><rect x="335.35" y="332.77" width="4.3" height="4.3" fill="#fff" fill-opacity="0.6" stroke="#E31B28" stroke-width="1.7"/><rect x="351.61" y="334.04" width="4.3" height="4.3" fill="#fff" fill-opacity="0.6" stroke="#E31B28" stroke-width="1.7"/><rect x="363.8" y="335.31" width="4.3" height="4.3" fill="#fff" fill-opacity="0.6" stroke="#E31B28" stroke-width="1.7"/><rect x="380.06" y="336.16" width="4.3" height="4.3" fill="#fff" fill-opacity="0.6" stroke="#E31B28" stroke-width="1.7"/><rect x="396.32" y="337.85" width="4.3" height="4.3" fill="#fff" fill-opacity="0.6" stroke="#E31B28" stroke-width="1.7"/><rect x="408.52" y="337.85" width="4.3" height="4.3" fill="#fff" fill-opacity="0.6" stroke="#E31B28" stroke-width="1.7"/><rect x="420.71" y="337.85" width="4.3" height="4.3" fill="#fff" fill-opacity="0.6" stroke="#E31B28" stroke-width="1.7"/><rect x="436.97" y="337.85" width="4.3" height="4.3" fill="#fff" fill-opacity="0.6" stroke="#E31B28" stroke-width="1.7"/><rect x="449.17" y="337.85" width="4.3" height="4.3" fill="#fff" fill-opacity="0.6" stroke="#E31B28" stroke-width="1.7"/><rect x="465.43" y="337.85" width="4.3" height="4.3" fill="#fff" fill-opacity="0.6" stroke="#E31B28" stroke-width="1.7"/><rect x="477.62" y="337.85" width="4.3" height="4.3" fill="#fff" fill-opacity="0.6" stroke="#E31B28" stroke-width="1.7"/><rect x="493.88" y="337.85" width="4.3" height="4.3" fill="#fff" fill-opacity="0.6" stroke="#E31B28" stroke-width="1.7"/><rect x="506.08" y="337.85" width="4.3" height="4.3" fill="#fff" fill-opacity="0.6" stroke="#E31B28" stroke-width="1.7"/></g>
<text x="319.5" y="342.4" font-size="7.2" font-weight="bold" text-anchor="end" fill="#000">0</text>
<text x="319.5" y="300.1" font-size="7.2" font-weight="bold" text-anchor="end" fill="#000">1,000</text>
<text x="319.5" y="257.8" font-size="7.2" font-weight="bold" text-anchor="end" fill="#000">2,000</text>
<text x="319.5" y="215.5" font-size="7.2" font-weight="bold" text-anchor="end" fill="#000">3,000</text>
<text x="325.3" y="351.6" font-size="7.2" font-weight="bold" text-anchor="middle" fill="#000">0</text>
<text x="365.95" y="351.6" font-size="7.2" font-weight="bold" text-anchor="middle" fill="#000">10</text>
<text x="406.6" y="351.6" font-size="7.2" font-weight="bold" text-anchor="middle" fill="#000">20</text>
<text x="447.25" y="351.6" font-size="7.2" font-weight="bold" text-anchor="middle" fill="#000">30</text>
<text x="487.9" y="351.6" font-size="7.2" font-weight="bold" text-anchor="middle" fill="#000">40</text>
<text x="421.8" y="362.6" font-size="7.8" font-weight="bold" text-anchor="middle" fill="#000">Days posttreatment</text>
<text transform="translate(283.9 279) rotate(-90)" font-size="7.9" font-weight="bold" text-anchor="middle" fill="#000">Right flank tumor volume mm<tspan font-size="4.8" dy="-3">3</tspan></text>
<text transform="translate(295.2 279) rotate(-90)" font-size="7.9" font-weight="bold" text-anchor="middle" fill="#000">(Intratumoral αCD40)</text>
<text x="398.5" y="226.2" font-size="7" font-weight="bold" text-anchor="middle" fill="#000">c</text>
<text x="423.1" y="211.8" font-size="7" font-weight="bold" text-anchor="middle" fill="#000">d</text>
<path d="M513.6 309.3H516.2V340H513" stroke="#000" stroke-width="1.3" fill="none"/>
<text transform="translate(516.2 323.4) rotate(90)" font-size="7.6" font-weight="bold" text-anchor="middle" fill="#000" stroke="#000" stroke-width="0.25" letter-spacing="1.7">**</text>
</g>
<g id="panelD">
<g stroke="#000" stroke-width="1.5" fill="none">
<path d="M49.8 397.75V528.4"/>
<path d="M49.05 524.9H232"/>
<path d="M46.2 524.9H49.8"/>
<path d="M46.2 461.7H49.8"/>
<path d="M46.2 398.5H49.8"/>
<path d="M48 493.3H49.8"/>
<path d="M48 430.1H49.8"/>
<path d="M105.8 524.9V528.4"/>
<path d="M161.8 524.9V528.4"/>
<path d="M217.8 524.9V528.4"/>
</g>
<path clip-path="url(#dclip)" d="M108.6 398.5H108.6V461.7H117V524.9" stroke="#000000" stroke-width="1.85" fill="none"/>
<circle cx="108.6" cy="461.7" r="2.28" fill="#000000"/>
<circle cx="117" cy="524.9" r="2.28" fill="#000000"/>
<path clip-path="url(#dclip)" d="M117 398.5H117V461.7H128.2V524.9" stroke="#6CC04A" stroke-width="1.85" fill="none"/>
<path d="M117 464.55L119.71 459.56L114.29 459.56Z" fill="#6CC04A"/>
<path d="M128.2 527.75L130.91 522.76L125.49 522.76Z" fill="#6CC04A"/>
<path clip-path="url(#dclip)" d="M128.2 398.5H128.2V440.63H136.6V461.7H156.2V503.83H189.8V524.9" stroke="#3A4CA6" stroke-width="1.85" fill="none"/>
<path d="M128.2 437.78L130.91 442.77L125.49 442.77Z" fill="#3A4CA6"/>
<path d="M136.6 458.85L139.31 463.84L133.89 463.84Z" fill="#3A4CA6"/>
<path d="M156.2 500.98L158.91 505.97L153.49 505.97Z" fill="#3A4CA6"/>
<path d="M189.8 522.05L192.51 527.04L187.09 527.04Z" fill="#3A4CA6"/>
<path clip-path="url(#dclip)" d="M108.6 398.5H108.6V503.83H117V524.9" stroke="#C5439D" stroke-width="1.7" fill="none" stroke-dasharray="3.1 1.3 1.1 1.3"/>
<circle cx="108.6" cy="503.83" r="2.1" fill="#fff" stroke="#C5439D" stroke-width="1.3"/>
<circle cx="117" cy="524.9" r="2.1" fill="#fff" stroke="#C5439D" stroke-width="1.3"/>
<path clip-path="url(#dclip)" d="M117 398.5H117V419.57H128.2V461.7H136.6V503.83H147.8V524.9" stroke="#6CC04A" stroke-width="1.7" fill="none" stroke-dasharray="3.1 1.3 1.1 1.3"/>
<path d="M117 422.02L119.33 417.73L114.67 417.73Z" fill="#fff" stroke="#6CC04A" stroke-width="1.7"/>
<path d="M128.2 464.15L130.53 459.86L125.87 459.86Z" fill="#fff" stroke="#6CC04A" stroke-width="1.7"/>
<path d="M136.6 506.28L138.93 501.99L134.27 501.99Z" fill="#fff" stroke="#6CC04A" stroke-width="1.7"/>
<path d="M147.8 527.35L150.13 523.06L145.47 523.06Z" fill="#fff" stroke="#6CC04A" stroke-width="1.7"/>
<path clip-path="url(#dclip)" d="M117 398.5H117V440.63H128.2V461.7H136.6V503.83H147.8V524.9" stroke="#3A4CA6" stroke-width="1.7" fill="none" stroke-dasharray="3.1 1.3 1.1 1.3"/>
<path d="M117 438.18L119.33 442.47L114.67 442.47Z" fill="#fff" stroke="#3A4CA6" stroke-width="1.7"/>
<path d="M128.2 459.25L130.53 463.54L125.87 463.54Z" fill="#fff" stroke="#3A4CA6" stroke-width="1.7"/>
<path d="M136.6 501.38L138.93 505.67L134.27 505.67Z" fill="#fff" stroke="#3A4CA6" stroke-width="1.7"/>
<path d="M147.8 522.45L150.13 526.74L145.47 526.74Z" fill="#fff" stroke="#3A4CA6" stroke-width="1.7"/>
<path clip-path="url(#dclip)" d="M49.8 398.5H147.8V419.57H167.4V440.63H189.8V461.7H217.8" stroke="#E31B28" stroke-width="1.85" fill="none"/>
<rect x="145.18" y="416.95" width="5.25" height="5.25" fill="#E31B28"/>
<rect x="164.77" y="438" width="5.25" height="5.25" fill="#E31B28"/>
<rect x="187.18" y="459.07" width="5.25" height="5.25" fill="#E31B28"/>
<rect x="215.18" y="459.07" width="5.25" height="5.25" fill="#E31B28"/>
<path d="M49.8 398.5H217.8" stroke="#E31B28" stroke-width="1.45" fill="none" stroke-dasharray="3.1 1.3 1.1 1.3"/>
<rect x="215.33" y="396.03" width="4.94" height="4.94" fill="#fff" stroke="#E31B28" stroke-width="1.7"/>
<text x="44.8" y="400.9" font-size="7.1" font-weight="bold" text-anchor="end" fill="#000">100</text>
<text x="44.8" y="464.1" font-size="7.1" font-weight="bold" text-anchor="end" fill="#000">50</text>
<text x="44.8" y="527.3" font-size="7.1" font-weight="bold" text-anchor="end" fill="#000">0</text>
<text x="49.8" y="536.7" font-size="6.9" font-weight="bold" text-anchor="middle" fill="#000">0</text>
<text x="105.8" y="536.7" font-size="6.9" font-weight="bold" text-anchor="middle" fill="#000">20</text>
<text x="161.8" y="536.7" font-size="6.9" font-weight="bold" text-anchor="middle" fill="#000">40</text>
<text x="217.8" y="536.7" font-size="6.9" font-weight="bold" text-anchor="middle" fill="#000">60</text>
<text x="139" y="546.9" font-size="7.7" font-weight="bold" text-anchor="middle" fill="#000">Days posttreatment</text>
<text transform="translate(20 466.4) rotate(-90)" font-size="7.8" font-weight="bold" text-anchor="middle" fill="#000">Survival probability</text>
<path d="M49.5 560.1H58.7" stroke="#E31B28" stroke-width="1.7"/>
<rect x="51.6" y="557.6" width="5" height="5" fill="#E31B28"/>
<text x="63.8" y="562.25" font-size="6.1" font-weight="bold" fill="#000">αCD40+IL15</text>
<text x="105.6" y="562.2" font-size="5.95" font-weight="bold" fill="#000">(<tspan font-style="italic">n</tspan> = 6)</text>
<path d="M132.1 560.1H134.8" stroke="#E31B28" stroke-width="1.3"/>
<rect x="134.04" y="557.84" width="4.51" height="4.51" fill="#fff" stroke="#E31B28" stroke-width="1.7"/>
<text x="146" y="562.25" font-size="6.1" font-weight="bold" fill="#000">αPD1+αCD40+IL15</text>
<text x="209.7" y="562.2" font-size="5.95" font-weight="bold" fill="#000">(<tspan font-style="italic">n</tspan> = 6)</text>
<path d="M49.5 571.7H58.7" stroke="#3A4CA6" stroke-width="1.7"/>
<path d="M54.1 568.7L56.95 573.95L51.25 573.95Z" fill="#3A4CA6"/>
<text x="63.8" y="573.85" font-size="6.1" font-weight="bold" fill="#000">αCD40</text>
<text x="105.6" y="573.8" font-size="5.95" font-weight="bold" fill="#000">(<tspan font-style="italic">n</tspan> = 6)</text>
<path d="M132.1 571.7H134.8" stroke="#3A4CA6" stroke-width="1.3"/>
<path d="M136.3 569.13L138.74 573.63L133.86 573.63Z" fill="#fff" stroke="#3A4CA6" stroke-width="1.7"/>
<text x="146" y="573.85" font-size="6.1" font-weight="bold" fill="#000">αPD1+αCD40</text>
<text x="209.7" y="573.8" font-size="5.95" font-weight="bold" fill="#000">(<tspan font-style="italic">n</tspan> = 6)</text>
<path d="M49.5 583.3H58.7" stroke="#6CC04A" stroke-width="1.7"/>
<path d="M54.1 586.3L56.95 581.05L51.25 581.05Z" fill="#6CC04A"/>
<text x="63.8" y="585.45" font-size="6.1" font-weight="bold" fill="#000">IL15</text>
<text x="105.6" y="585.4" font-size="5.95" font-weight="bold" fill="#000">(<tspan font-style="italic">n</tspan> = 6)</text>
<path d="M132.1 583.3H134.8" stroke="#6CC04A" stroke-width="1.3"/>
<path d="M136.3 585.87L138.74 581.37L133.86 581.37Z" fill="#fff" stroke="#6CC04A" stroke-width="1.7"/>
<text x="146" y="585.45" font-size="6.1" font-weight="bold" fill="#000">αPD1+IL15</text>
<text x="209.7" y="585.4" font-size="5.95" font-weight="bold" fill="#000">(<tspan font-style="italic">n</tspan> = 6)</text>
<path d="M49.5 594.9H58.7" stroke="#000000" stroke-width="1.7"/>
<circle cx="54.1" cy="594.9" r="2.4" fill="#000000"/>
<text x="63.8" y="597.05" font-size="6.1" font-weight="bold" fill="#000">Ctrl</text>
<text x="105.6" y="597" font-size="5.95" font-weight="bold" fill="#000">(<tspan font-style="italic">n</tspan> = 6)</text>
<path d="M132.1 594.9H134.8" stroke="#C5439D" stroke-width="1.3"/>
<circle cx="136.3" cy="594.9" r="2.21" fill="#fff" stroke="#C5439D" stroke-width="1.3"/>
<text x="146" y="597.05" font-size="6.1" font-weight="bold" fill="#000">αPD1</text>
<text x="209.7" y="597" font-size="5.95" font-weight="bold" fill="#000">(<tspan font-style="italic">n</tspan> = 6)</text>
</g>
</g>
</svg>
</body></html>
